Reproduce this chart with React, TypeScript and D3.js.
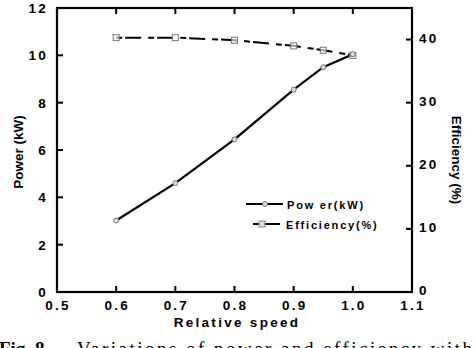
import React from "react";
import * as d3 from "d3";

const speed = [0.6, 0.7, 0.8, 0.9, 0.95, 1.0];
const power = [3.02, 4.6, 6.45, 8.55, 9.5, 10.05];
const efficiency = [40.3, 40.3, 39.9, 39.0, 38.3, 37.5];
const xTicks = [0.5, 0.6, 0.7, 0.8, 0.9, 1.0, 1.1];
const yLeftTicks = [0, 2, 4, 6, 8, 10, 12];
const yRightTicks = [0, 10, 20, 30, 40];
const seriesNames = ["Pow er(kW)", "Efficiency(%)"];

const W = 474, H = 348;
const L = 57, R = 412, T = 8, B = 292;

export default function App() {
  const x = d3.scaleLinear().domain([0.5, 1.1]).range([L, R]);
  const yL = d3.scaleLinear().domain([0, 12]).range([B, T]);
  const yR = d3.scaleLinear().domain([0, 45]).range([B, T]);
  const pts = speed.map((s, i) => ({ s, p: power[i], e: efficiency[i] }));
  const lineP = d3.line<any>().x((d) => x(d.s)).y((d) => yL(d.p));
  const lineE = d3.line<any>().x((d) => x(d.s)).y((d) => yR(d.e));
  const font = "'Liberation Sans', Arial, sans-serif";
  const tickStyle: any = { fontFamily: font, fontWeight: "bold", fontSize: 13.5, letterSpacing: 2.2 };
  return (
    <svg width={W} height={H} style={{ position: "absolute", left: 0, top: 0, background: "#fff" }}>
      <rect x={0} y={0} width={W} height={H} fill="#fff" />
      {/* frame */}
      <rect x={L} y={T} width={R - L} height={B - T} fill="none" stroke="#000" strokeWidth={2.2} />
      {/* x ticks */}
      {xTicks.map((t) => (
        <g key={"x" + t}>
          <line x1={x(t)} x2={x(t)} y1={B} y2={B - 6} stroke="#000" strokeWidth={2} />
          <line x1={x(t)} x2={x(t)} y1={T} y2={T + 6} stroke="#000" strokeWidth={2} />
          <text x={x(t) + 1} y={310} textAnchor="middle" style={tickStyle}>{t.toFixed(1)}</text>
        </g>
      ))}
      {yLeftTicks.map((t) => (
        <g key={"yl" + t}>
          <line x1={L} x2={L + 6} y1={yL(t)} y2={yL(t)} stroke="#000" strokeWidth={2} />
          <text x={48} y={yL(t) + 5} textAnchor="end" style={tickStyle}>{t}</text>
        </g>
      ))}
      {yRightTicks.map((t) => (
        <g key={"yr" + t}>
          <line x1={R} x2={R - 6} y1={yR(t)} y2={yR(t)} stroke="#000" strokeWidth={2} />
          <text x={419} y={yR(t) + 3} textAnchor="start" style={tickStyle}>{t}</text>
        </g>
      ))}
      {/* axis titles */}
      <text transform={`translate(22.5,152) rotate(-90)`} textAnchor="middle"
        style={{ fontFamily: font, fontWeight: "bold", fontSize: 13.5 }}>Power (kW)</text>
      <text transform={`translate(452,160) rotate(90)`} textAnchor="middle"
        style={{ fontFamily: font, fontWeight: "bold", fontSize: 13.5 }}>Efficiency (%)</text>
      <text x={237} y={327} textAnchor="middle"
        style={{ fontFamily: font, fontWeight: "bold", fontSize: 13.5, letterSpacing: 2.3 }}>Relative speed</text>
      {/* series */}
      <path d={lineE(pts) || ""} fill="none" stroke="#000" strokeWidth={2} strokeDasharray="6,3,16,7" />
      <path d={lineP(pts) || ""} fill="none" stroke="#000" strokeWidth={2.2} />
      {pts.map((d, i) => (
        <rect key={"e" + i} x={x(d.s) - 3} y={yR(d.e) - 3} width={6} height={6} fill="#fff" fillOpacity={0.6} stroke="#777" strokeWidth={1} />
      ))}
      {pts.map((d, i) => (
        <circle key={"p" + i} cx={x(d.s)} cy={yL(d.p)} r={2.5} fill="#ddd" stroke="#777" strokeWidth={1} />
      ))}
      {/* legend */}
      <line x1={246} x2={283} y1={204} y2={204} stroke="#000" strokeWidth={2} />
      <circle cx={265} cy={204} r={2.5} fill="#ddd" stroke="#777" strokeWidth={1} />
      <text x={287} y={208.5} style={{ fontFamily: font, fontWeight: "bold", fontSize: 11, letterSpacing: 1.8 }}>{seriesNames[0]}</text>
      <line x1={253} x2={280} y1={224} y2={224} stroke="#000" strokeWidth={2} />
      <rect x={259} y={221} width={6} height={6} fill="#ddd" stroke="#888" strokeWidth={1} />
      <text x={286} y={229} style={{ fontFamily: font, fontWeight: "bold", fontSize: 11, letterSpacing: 1.8 }}>{seriesNames[1]}</text>
      {/* caption (cut off at the bottom edge, as in the reference) */}
      <text x={-1} y={355} style={{ fontFamily: "'Liberation Serif', serif", fontWeight: "bold", fontSize: 19 }}>Fig. 8</text>
      <text x={77} y={355} textLength={395} lengthAdjust="spacing"
        style={{ fontFamily: "'Liberation Serif', serif", fontSize: 19 }}>Variations of power and efficiency with</text>
    </svg>
  );
}
